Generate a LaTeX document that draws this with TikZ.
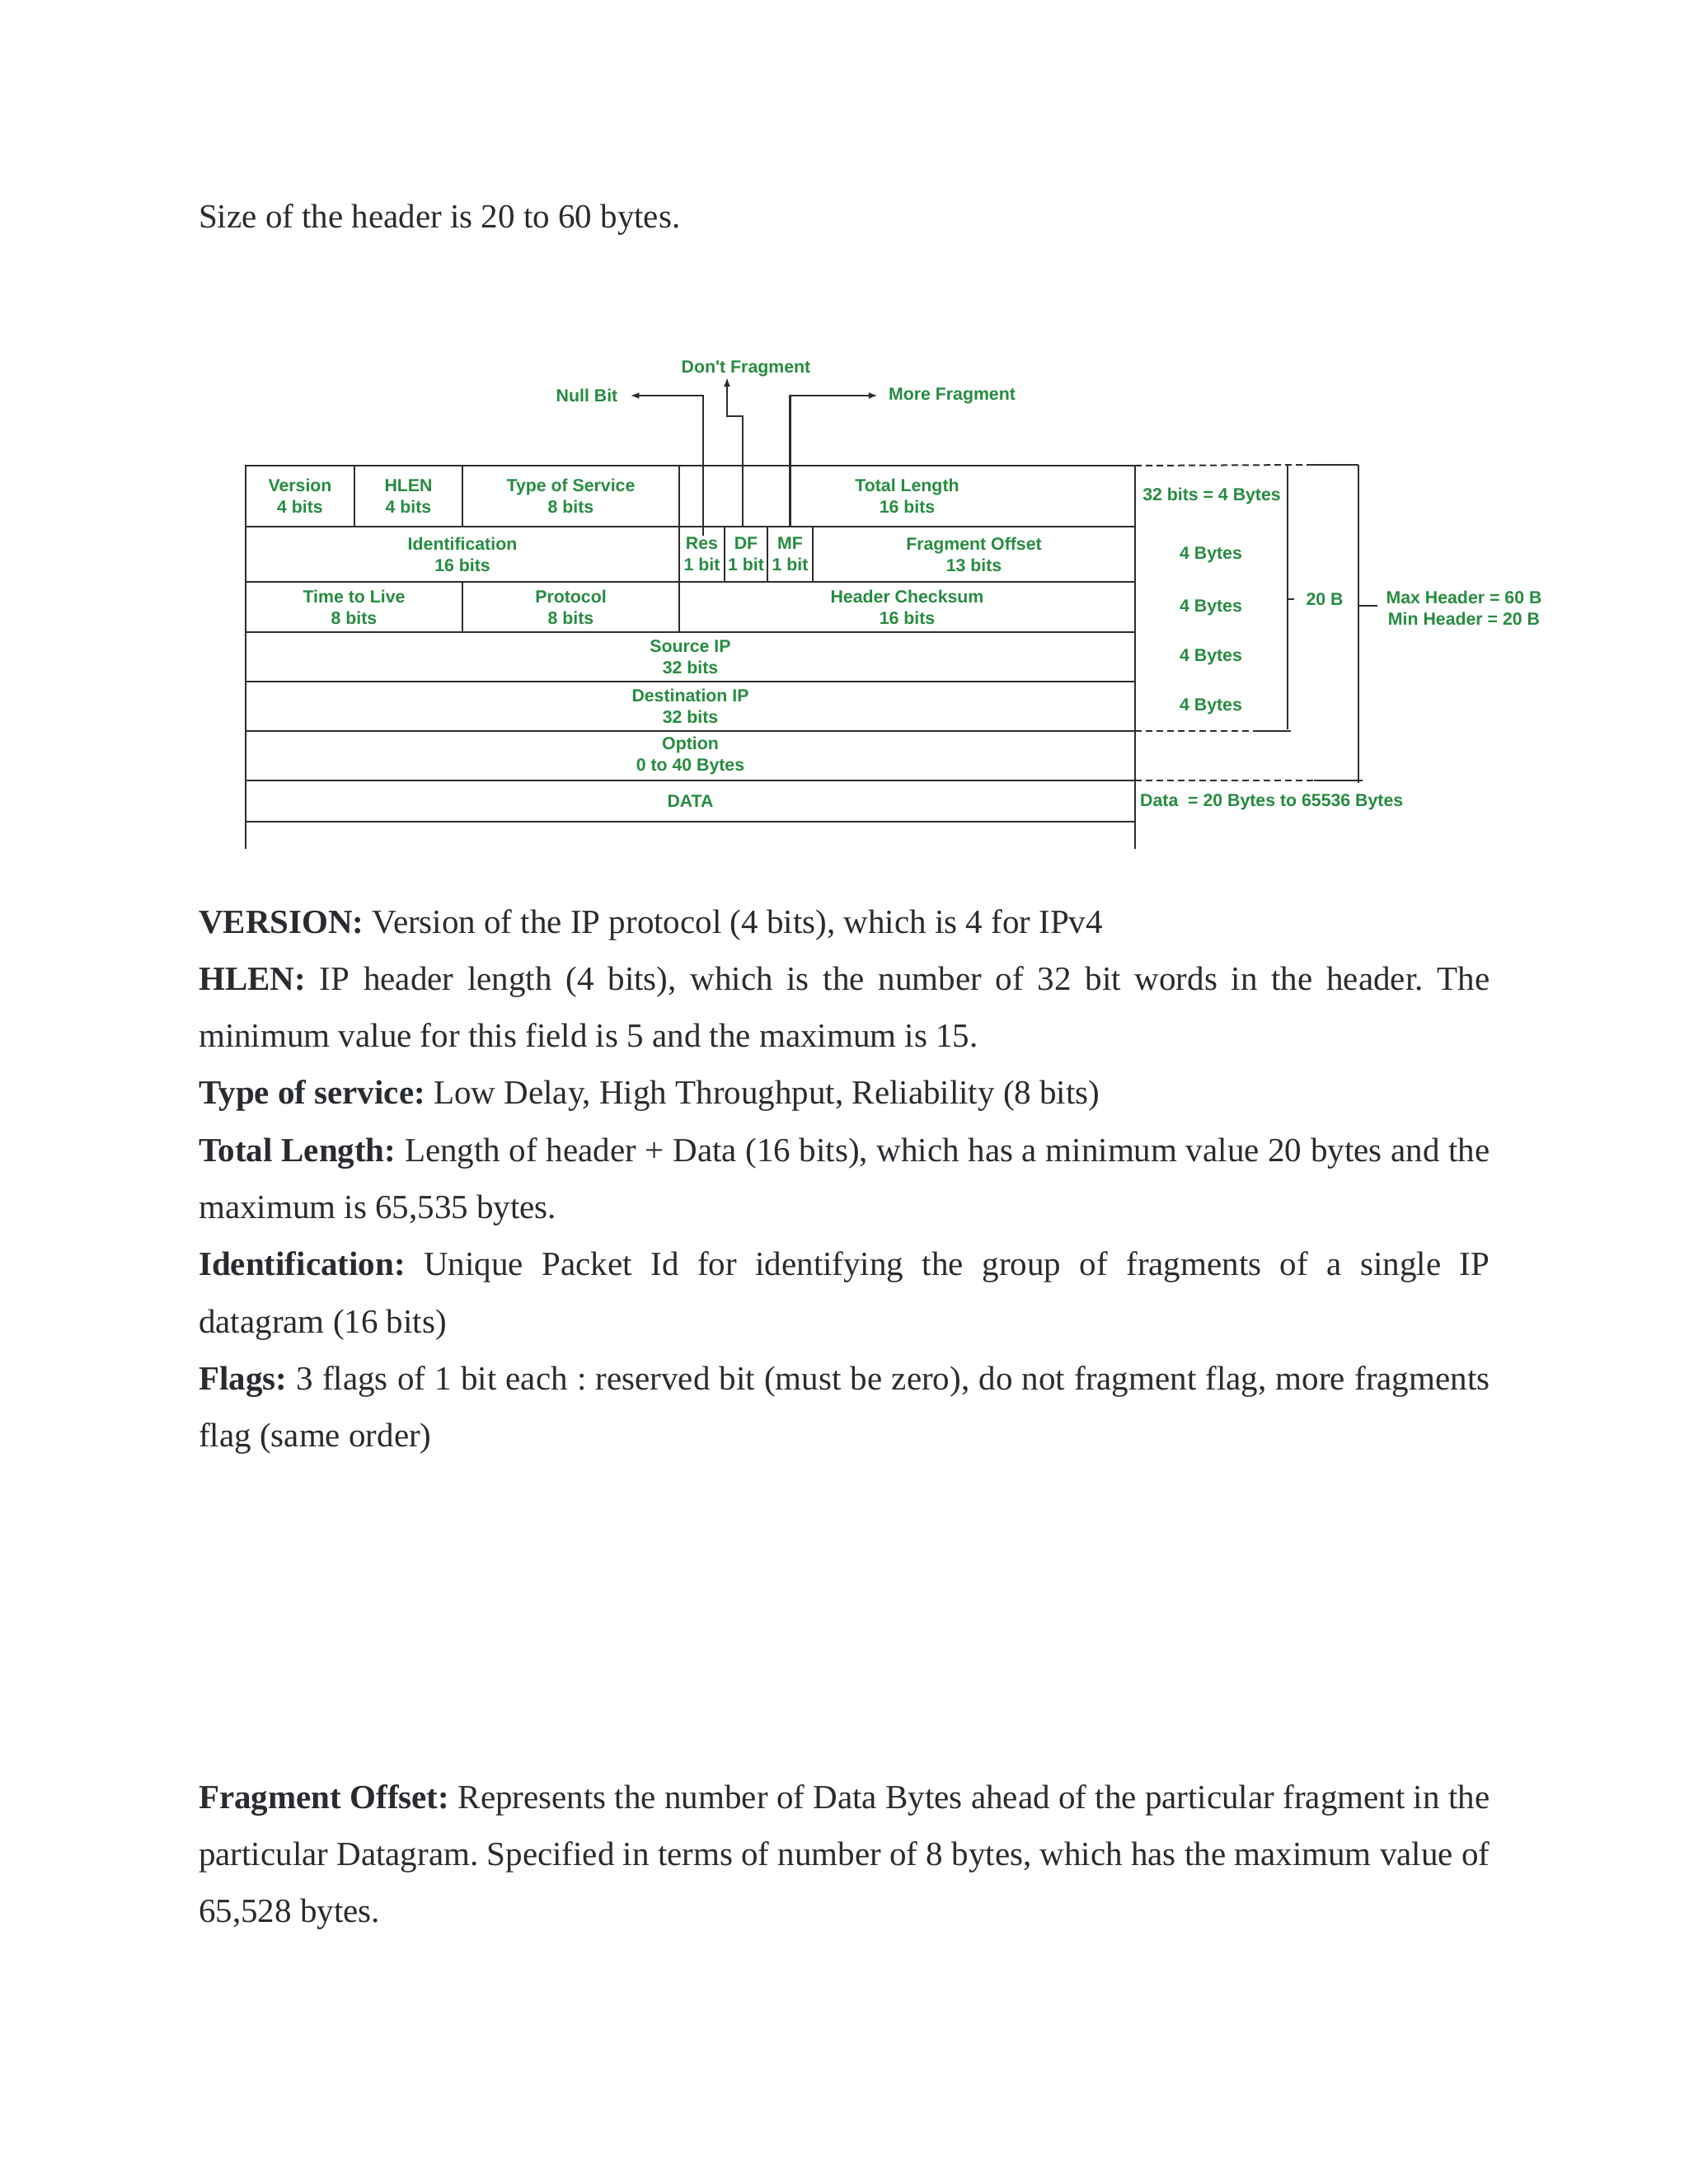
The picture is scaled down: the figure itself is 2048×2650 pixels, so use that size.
\documentclass[tikz,border=0pt]{standalone}
\usepackage{fontspec}
\setmainfont{Liberation Serif}
\newfontfamily\diagfont{Liberation Sans}
\usetikzlibrary{arrows.meta,calc}
\definecolor{dgreen}{RGB}{38,140,64}
\definecolor{bodyink}{RGB}{40,43,47}
\definecolor{lineink}{RGB}{45,45,45}
\frenchspacing
\begin{document}
\begin{tikzpicture}[x=1pt,y=-1pt,
  dfont/.style={font={\diagfont\bfseries\fontsize{21.3}{26}\selectfont}, text=dgreen},
  cell/.style={dfont, draw=lineink, line width=2.6pt, rectangle, inner sep=0pt, outer sep=0pt, anchor=north west, align=center},
  lab/.style={dfont, inner sep=0pt, align=center},
  wire/.style={draw=lineink, line width=2.2pt},
  dashln/.style={draw=lineink, line width=2pt, dash pattern=on 8pt off 5pt},
  arr/.style={wire, -{Latex[length=11pt,width=8pt]}},
  body/.style={inner sep=0pt, text width=1566pt, align=justify, anchor=base west, text=bodyink,
    font={\fontsize{41}{69.3}\selectfont\frenchspacing\tolerance=9999\hbadness=10000\parindent=0pt}}]
\useasboundingbox[fill=white] (0,0) rectangle (2048,2650);

% title line
\node[body] (title) at (241,276.7) {Size of the header is 20 to 60 bytes.};

% ---- header table ----
\node[cell, minimum width=132pt, minimum height=74pt] (ver)  at (298,565) {Version\\4 bits};
\node[cell, minimum width=131pt, minimum height=74pt] (hlen) at (430,565) {HLEN\\4 bits};
\node[cell, minimum width=263pt, minimum height=74pt] (tos)  at (561,565) {Type of Service\\8 bits};
\node[cell, minimum width=553pt, minimum height=74pt] (tl)   at (824,565) {Total Length\\16 bits};

\node[cell, minimum width=526pt, minimum height=67pt] (ident) at (298,639) {Identification\\16 bits};
\node[cell, minimum width=55pt,  minimum height=67pt] (res)   at (824,639) {Res\\1 bit};
\node[cell, minimum width=52pt,  minimum height=67pt] (df)    at (879,639) {DF\\1 bit};
\node[cell, minimum width=55pt,  minimum height=67pt] (mf)    at (931,639) {MF\\1 bit};
\node[cell, minimum width=391pt, minimum height=67pt] (fo)    at (986,639) {Fragment Offset\\13 bits};

\node[cell, minimum width=263pt, minimum height=61pt] (ttl)   at (298,706) {Time to Live\\8 bits};
\node[cell, minimum width=263pt, minimum height=61pt] (proto) at (561,706) {Protocol\\8 bits};
\node[cell, minimum width=553pt, minimum height=61pt] (hc)    at (824,706) {Header Checksum\\16 bits};

\node[cell, minimum width=1079pt, minimum height=60pt] (src)  at (298,767) {Source IP\\32 bits};
\node[cell, minimum width=1079pt, minimum height=60pt] (dst)  at (298,827) {Destination IP\\32 bits};
\node[cell, minimum width=1079pt, minimum height=60pt] (opt)  at (298,887) {Option\\0 to 40 Bytes};
\node[cell, minimum width=1079pt, minimum height=50pt] (data) at (298,947) {DATA};

\draw[wire, line width=2.6pt] (data.south west) -- ++(0,33);
\draw[wire, line width=2.6pt] (data.south east) -- ++(0,33);

% ---- flag labels and arrows ----
\node[lab] (nullbit) at (712,480) {Null Bit};
\node[lab] (dfl)     at (905,447) {Don't Fragment};
\node[lab] (mfl)     at (1155,480) {More Fragment};

\draw[arr] ($(res.north)+(1.5,11)$) |- ($(nullbit.east)+(15,0)$);
\draw[arr] ($(df.north)+(-4,0)$) -- ++(0,-134) -- ++(-19,0) -- ($(dfl.center)+(-23,11)$);
\draw[arr] (mf.north) |- ($(mfl.west)+(-13,0)$);

% ---- right-hand size annotations ----
\coordinate (topsolid) at (1587,564);
\coordinate (outtop)   at (1648,564);
\coordinate (intop)    at (1562,564);
\coordinate (inbot)    at (1562,885);
\coordinate (intick)   at (1562,727);
\coordinate (inbsolid) at (1525,887);
\coordinate (inbend)   at (1566,887);
\coordinate (outbot)   at (1648,950);
\coordinate (outtick)  at (1648,735);
\coordinate (outbsolid) at (1594,947);
\coordinate (outbend)  at (1653,947);

\draw[dashln] (tl.north east) -- (topsolid);
\draw[wire] (topsolid) -- (outtop);
\draw[wire, line width=2pt] (intop) -- (inbot);
\draw[wire] (intick) -- ++(8,0);
\draw[dashln] (dst.south east) -- (inbsolid);
\draw[wire] (inbsolid) -- (inbend);
\draw[wire] (outtop) -- (outbot);
\draw[wire] (outtick) -- ++(23,0);
\draw[dashln] (opt.south east) -- (outbsolid);
\draw[wire] (outbsolid) -- (outbend);

\node[lab] (w0) at (1470,602) {32 bits = 4 Bytes};
\node[lab] (w1) at (1469,673) {4 Bytes};
\node[lab] (w2) at (1469,737) {4 Bytes};
\node[lab] (w3) at (1469,797) {4 Bytes};
\node[lab] (w4) at (1469,857) {4 Bytes};
\node[lab] (twenty) at (1607,727) {20 B};
\node[lab] (maxmin) at (1776,737.5) {Max Header = 60 B\\Min Header = 20 B};
\node[lab, anchor=west] (datasize) at (1383,973) {Data\ \ = 20 Bytes to 65536 Bytes};

% ---- description text ----
\node[body] (desc) at (241,1132) {%
\textbf{VERSION:} Version of the IP protocol (4 bits), which is 4 for IPv4\par
\textbf{HLEN:} IP header length (4 bits), which is the number of 32 bit words in the header. The\linebreak
minimum value for this field is 5 and the maximum is 15.\par
\textbf{Type of service:} Low Delay, High Throughput, Reliability (8 bits)\par
\textbf{Total Length:} Length of header + Data (16 bits), which has a minimum value 20 bytes and the\linebreak
maximum is 65,535 bytes.\par
\textbf{Identification:} Unique Packet Id for identifying the group of fragments of a single IP\linebreak
datagram (16 bits)\par
\textbf{Flags:} 3 flags of 1 bit each : reserved bit (must be zero), do not fragment flag, more fragments\linebreak
flag (same order)};

\node[body] (fragoff) at (241,2194) {%
\textbf{Fragment Offset:} Represents the number of Data Bytes ahead of the particular fragment in the\linebreak
particular Datagram. Specified in terms of number of 8 bytes, which has the maximum value of\linebreak
65,528 bytes.};
\end{tikzpicture}
\end{document}
